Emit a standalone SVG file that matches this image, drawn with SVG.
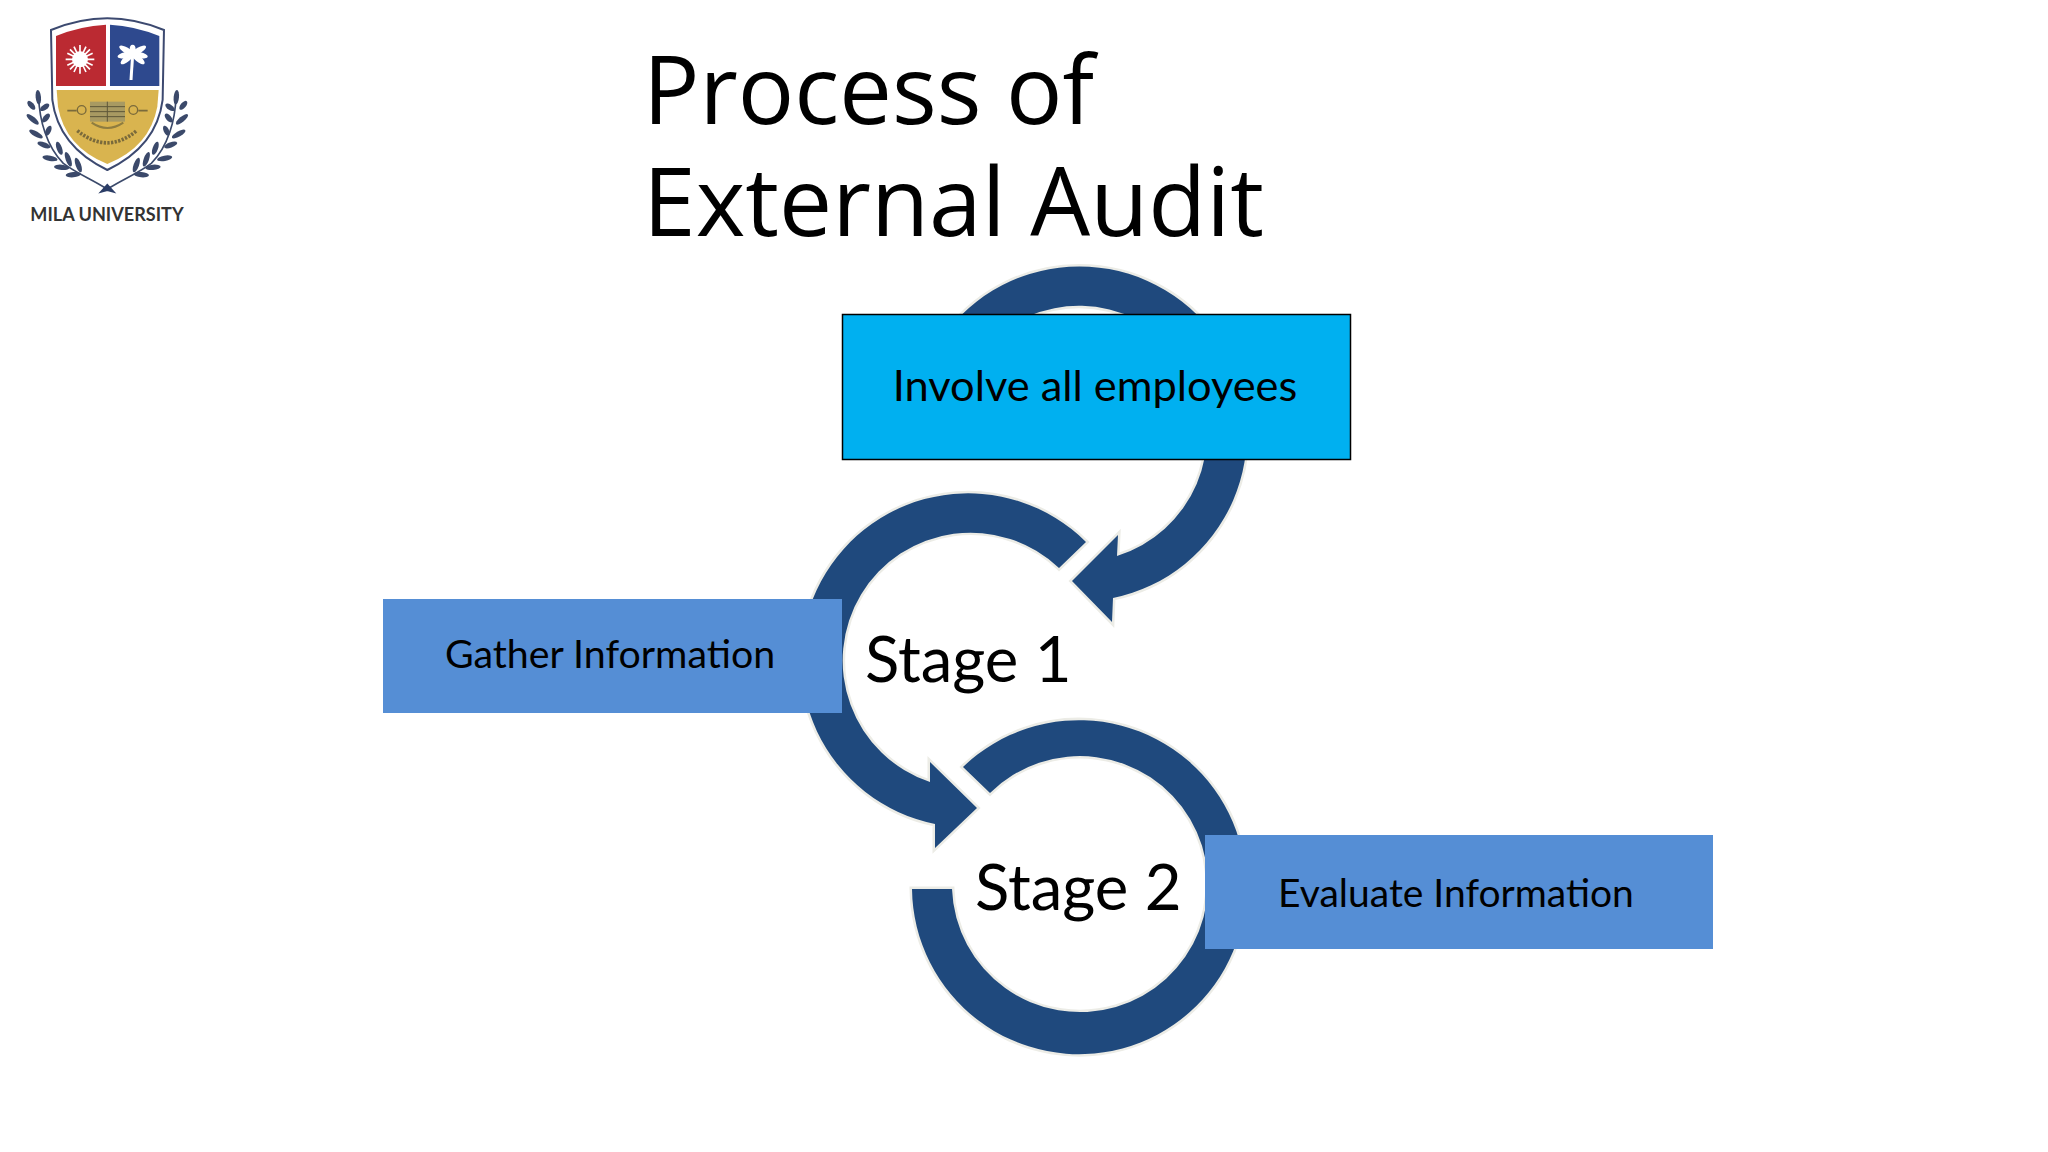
<svg xmlns="http://www.w3.org/2000/svg" xmlns:xlink="http://www.w3.org/1999/xlink" width="2048" height="1152" viewBox="0 0 2048 1152">
<style>
.title{font-family:"Open Sans","Noto Sans",sans-serif;font-size:95px;fill:#000}
.stage{font-family:"Lato","Open Sans",sans-serif;font-size:63.500px;fill:#000}
.lbl{font-family:"Lato","Open Sans",sans-serif;fill:#000}
.arrow{fill:#1f497d;stroke:#ecece6;stroke-width:5;stroke-linejoin:miter;paint-order:stroke}
.box{fill:#558ed5}
.leaf{fill:#3b4a6b}
</style>
<defs>
<filter id="soft" x="-5%" y="-5%" width="110%" height="110%"><feGaussianBlur stdDeviation="1.8"/></filter>
<ellipse id="lf" class="leaf" cx="0" cy="0" rx="23" ry="8"/>
<ellipse id="fr" fill="#fff" cx="22" cy="0" rx="24" ry="9"/>
<g id="laurel">
<path d="M116 290C118 360 140 440 190 490C230 520 270 535 318 565" fill="none" stroke="#3b4a6b" stroke-width="5"/>
<use xlink:href="#lf" transform="translate(115,292) rotate(85) scale(.95,1)"/>
<use xlink:href="#lf" transform="translate(94,316) rotate(50) scale(.7,1)"/>
<use xlink:href="#lf" transform="translate(134,322) rotate(-35) scale(.7,1)"/>
<use xlink:href="#lf" transform="translate(98,358) rotate(40)"/>
<use xlink:href="#lf" transform="translate(138,354) rotate(-50) scale(.7,1)"/>
<use xlink:href="#lf" transform="translate(108,402) rotate(30)"/>
<use xlink:href="#lf" transform="translate(145,392) rotate(-65) scale(.7,1)"/>
<use xlink:href="#lf" transform="translate(132,435) rotate(20) scale(.9,1)"/>
<use xlink:href="#lf" transform="translate(178,445) rotate(70) scale(.9,1)"/>
<use xlink:href="#lf" transform="translate(150,475) rotate(10)"/>
<use xlink:href="#lf" transform="translate(205,478) rotate(70)"/>
<use xlink:href="#lf" transform="translate(185,502) rotate(5)"/>
<use xlink:href="#lf" transform="translate(235,495) rotate(70)"/>
<use xlink:href="#lf" transform="translate(220,524) rotate(-5)"/>
</g>
</defs>
<rect width="2048" height="1152" fill="#fff"/>

<g id="logo" transform="scale(.3333)">
<g filter="url(#soft)">
<use xlink:href="#laurel"/>
<use xlink:href="#laurel" transform="translate(644,0) scale(-1,1)"/>
<path d="M322 555l-18 20 18 -5 18 5z" fill="#2c3c66" stroke="#2c3c66" stroke-width="6"/>
<path d="M153 90Q240 55 322 55Q405 55 492 90L488 300Q470 440 322 510Q175 440 157 300Z" fill="#fff" stroke="#3c4a70" stroke-width="6"/>
<path d="M168 108Q240 78 318 74V258H168Z" fill="#bb2a33"/>
<path d="M330 74Q405 78 478 108V258H330Z" fill="#2f4a8e"/>
<path d="M170 270H476L472 320Q450 440 322 492Q195 440 174 320Z" fill="#d9b450"/>
<circle cx="240" cy="178" r="24" fill="#fff"/>
<path d="M240 135V221M197 178H283M210 148L270 208M270 148L210 208M222 140L258 216M258 140L222 216M202 160L278 196M278 160L202 196" stroke="#fff" stroke-width="5"/>
<path d="M393 240L398 165" stroke="#fff" stroke-width="9" fill="none"/>
<g>
<use xlink:href="#fr" transform="translate(398,162) rotate(-30)"/>
<use xlink:href="#fr" transform="translate(398,162) rotate(10)"/>
<use xlink:href="#fr" transform="translate(398,162) rotate(40)"/>
<use xlink:href="#fr" transform="translate(398,162) rotate(-150)"/>
<use xlink:href="#fr" transform="translate(398,162) rotate(170)"/>
<use xlink:href="#fr" transform="translate(398,162) rotate(140)"/>
<use xlink:href="#fr" transform="translate(398,162) rotate(-90) scale(.6,1)"/>
</g>
<rect x="270" y="305" width="105" height="60" fill="#a89a62"/>
<path d="M322 305V365M270 320H375M270 335H375M270 350H375" stroke="#5e5738" stroke-width="3"/>
<path d="M275 368Q322 400 370 368" fill="none" stroke="#8f7d3f" stroke-width="6"/>
<circle cx="245" cy="330" r="13" fill="none" stroke="#7a6a3a" stroke-width="4"/>
<circle cx="400" cy="330" r="13" fill="none" stroke="#7a6a3a" stroke-width="4"/>
<path d="M202 332H230M415 332H443" stroke="#7a6a3a" stroke-width="5"/>
<path d="M232 392Q322 465 410 392" fill="none" stroke="#7a6a3a" stroke-width="11" stroke-dasharray="7 4"/>
</g>
<text x="321" y="662" text-anchor="middle" font-family="Lato,'Open Sans',sans-serif" font-weight="700" font-size="58" textLength="460" lengthAdjust="spacingAndGlyphs" fill="#333">MILA UNIVERSITY</text>
</g>

<text class="title" x="643" y="124" textLength="451" lengthAdjust="spacingAndGlyphs">Process of</text>
<text class="title" x="643" y="236" textLength="621" lengthAdjust="spacingAndGlyphs">External Audit</text>

<g id="connectors">
<path id="arrow-top" class="arrow" d="M948 330A167.500 167.500 0 1 1 1113 598L1112 622L1072 581L1118 535L1117 556A128 128 0 1 0 1004 330Z"/>
<path id="arrow-stage1" class="arrow" d="M1086 542A167 167 0 1 0 935 824L935 848L977 808L930 762L930 782A128 128 0 1 1 1059 568Z"/>
<path id="arrow-stage2" class="arrow" d="M963 767A167 167 0 1 1 912 889H952A128 128 0 1 0 990 793Z"/>
</g>

<g id="node-involve">
<rect x="842.500" y="314.500" width="508" height="145" fill="#00b0f0" stroke="#000" stroke-width="1.500"/>
<text class="lbl" x="1095" y="401" font-size="43.400" text-anchor="middle">Involve all employees</text>
</g>
<g id="node-gather">
<rect class="box" x="383" y="599" width="459" height="114"/>
<text class="lbl" x="610" y="668" font-size="39.300" text-anchor="middle">Gather Information</text>
</g>
<g id="node-stage1"><text class="stage" x="865" y="682">Stage 1</text></g>
<g id="node-stage2"><text class="stage" x="975" y="910">Stage 2</text></g>
<g id="node-evaluate">
<rect class="box" x="1205" y="835" width="508" height="114"/>
<text class="lbl" x="1456" y="907" font-size="39" text-anchor="middle">Evaluate Information</text>
</g>
</svg>
